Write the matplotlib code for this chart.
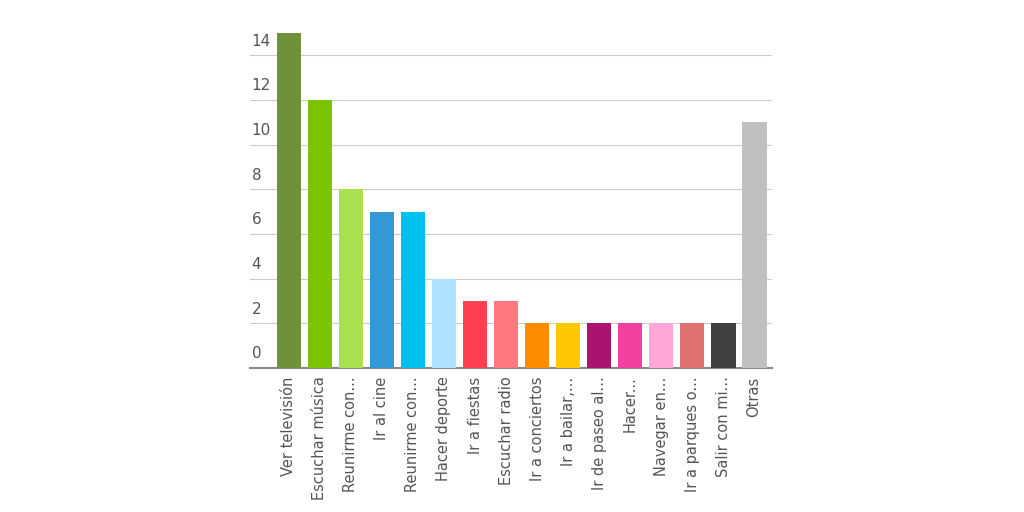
import matplotlib.pyplot as plt

labels = ['Ver televisión', 'Escuchar música', 'Reunirme con...', 'Ir al cine',
          'Reunirme con...', 'Hacer deporte', 'Ir a fiestas', 'Escuchar radio',
          'Ir a conciertos', 'Ir a bailar,...', 'Ir de paseo al...', 'Hacer...',
          'Navegar en...', 'Ir a parques o...', 'Salir con mi...', 'Otras']
values = [15, 12, 8, 7, 7, 4, 3, 3, 2, 2, 2, 2, 2, 2, 2, 11]
colors = ['#6e913a', '#7cc400', '#a8e04f', '#3399d6', '#00c0f0', '#aee0ff',
          '#ff4050', '#ff7880', '#ff8c00', '#ffc800', '#aa1470', '#f040a0',
          '#ffa8d8', '#e07070', '#404040', '#c0c0c0']
yticks = [0, 2, 4, 6, 8, 10, 12, 14]

fig = plt.figure(figsize=(10.24, 5.12), dpi=100)
ax = fig.add_axes([0.244, 0.281, 0.51, 0.6545])
x = range(len(values))
ax.bar(x, values, width=0.8, color=colors, zorder=3)
ax.set_xlim(-1.26, 15.58)
ax.set_ylim(0, 15)
for t in yticks[1:]:
    ax.axhline(t, color='#cccccc', lw=0.8, zorder=1)
for t in yticks:
    ax.text(-1.2, t + 0.3, str(t), fontsize=11, color='#555555', va='bottom', ha='left')
ax.set_yticks([])
ax.set_xticks(list(x))
ax.set_xticklabels(labels, rotation=90, fontsize=10.5, color='#555555')
ax.tick_params(axis='x', length=0, pad=6)
for s in ['top', 'right', 'left']:
    ax.spines[s].set_visible(False)
ax.spines['bottom'].set_color('#888888')
ax.spines['bottom'].set_linewidth(1.5)
fig.savefig('out.png', dpi=100)
